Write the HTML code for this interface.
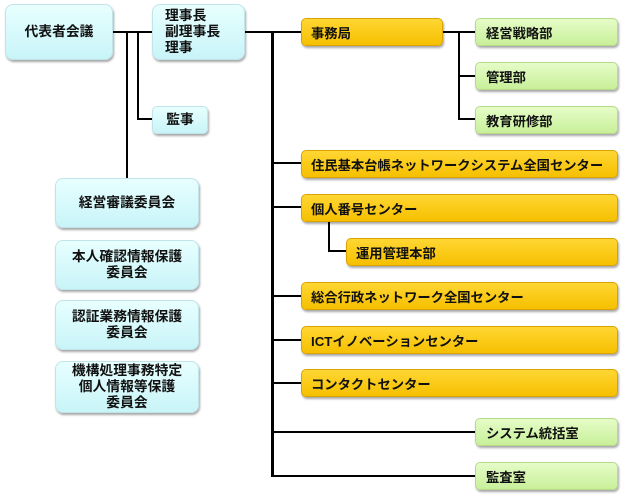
<!DOCTYPE html>
<html><head><meta charset="utf-8"><style>
body{margin:0;width:623px;height:499px;background:#fff;position:relative;overflow:hidden;font-family:"Liberation Sans","Noto Sans CJK JP",sans-serif;}
.b{position:absolute;box-sizing:border-box;border-radius:5px;font-size:13.3px;font-weight:bold;color:#111;display:flex;align-items:center;white-space:nowrap;}
.c{background:linear-gradient(#e8ffff,#c8f4f8);border:1px solid #bfe4ea;box-shadow:1px 2px 2px rgba(0,0,0,.35);justify-content:center;text-align:center;line-height:16px;border-radius:8px;font-size:13.8px;}
.o{background:linear-gradient(#ffd633,#f6c000);border:1px solid #d9a400;box-shadow:1px 2px 2px rgba(0,0,0,.35);padding-left:9px;}
.g{background:linear-gradient(#e6fcc8,#c8f09a);border:1px solid #b6d98a;box-shadow:1px 2px 2px rgba(0,0,0,.35);padding-left:10px;}
.l{position:absolute;background:#000;}
</style></head><body>
<div class="l" style="left:113px;top:31px;width:39px;height:2px"></div>
<div class="l" style="left:126px;top:31px;width:2px;height:147px"></div>
<div class="l" style="left:137px;top:31px;width:2px;height:89px"></div>
<div class="l" style="left:137px;top:118px;width:15px;height:2px"></div>
<div class="l" style="left:245px;top:31px;width:56px;height:2px"></div>
<div class="l" style="left:271px;top:31px;width:3px;height:446px"></div>
<div class="l" style="left:271px;top:162px;width:30px;height:2px"></div>
<div class="l" style="left:271px;top:206px;width:30px;height:2px"></div>
<div class="l" style="left:271px;top:295px;width:30px;height:2px"></div>
<div class="l" style="left:271px;top:339px;width:30px;height:2px"></div>
<div class="l" style="left:271px;top:382px;width:30px;height:2px"></div>
<div class="l" style="left:271px;top:431px;width:204px;height:2px"></div>
<div class="l" style="left:271px;top:475px;width:204px;height:2px"></div>
<div class="l" style="left:443px;top:31px;width:32px;height:2px"></div>
<div class="l" style="left:458px;top:31px;width:2px;height:89px"></div>
<div class="l" style="left:458px;top:75px;width:17px;height:2px"></div>
<div class="l" style="left:458px;top:118px;width:17px;height:2px"></div>
<div class="l" style="left:328px;top:221px;width:2px;height:31px"></div>
<div class="l" style="left:328px;top:250px;width:18px;height:2px"></div>
<div class="b c" style="left:5px;top:4px;width:108px;height:56px">代表者会議</div>
<div class="b c" style="left:152px;top:4px;width:93px;height:56px;justify-content:flex-start;text-align:left;padding-left:12px">理事長<br>副理事長<br>理事</div>
<div class="b c" style="left:152px;top:106px;width:56px;height:28px;border-radius:5px">監事</div>
<div class="b c" style="left:55px;top:178px;width:144px;height:50px">経営審議委員会</div>
<div class="b c" style="left:55px;top:240px;width:144px;height:50px">本人確認情報保護<br>委員会</div>
<div class="b c" style="left:55px;top:300px;width:144px;height:50px">認証業務情報保護<br>委員会</div>
<div class="b c" style="left:55px;top:361px;width:144px;height:52px">機構処理事務特定<br>個人情報等保護<br>委員会</div>
<div class="b o" style="left:301px;top:18px;width:142px;height:28px">事務局</div>
<div class="b o" style="left:301px;top:150px;width:317px;height:28px">住民基本台帳ネットワークシステム全国センター</div>
<div class="b o" style="left:301px;top:194px;width:317px;height:28px">個人番号センター</div>
<div class="b o" style="left:346px;top:238px;width:272px;height:28px">運用管理本部</div>
<div class="b o" style="left:301px;top:282px;width:317px;height:28px">総合行政ネットワーク全国センター</div>
<div class="b o" style="left:301px;top:326px;width:317px;height:28px">ICTイノベーションセンター</div>
<div class="b o" style="left:301px;top:369px;width:317px;height:28px">コンタクトセンター</div>
<div class="b g" style="left:475px;top:18px;width:143px;height:28px">経営戦略部</div>
<div class="b g" style="left:475px;top:62px;width:143px;height:28px">管理部</div>
<div class="b g" style="left:475px;top:106px;width:143px;height:28px">教育研修部</div>
<div class="b g" style="left:475px;top:418px;width:143px;height:28px">システム統括室</div>
<div class="b g" style="left:475px;top:462px;width:143px;height:28px">監査室</div>
</body></html>
